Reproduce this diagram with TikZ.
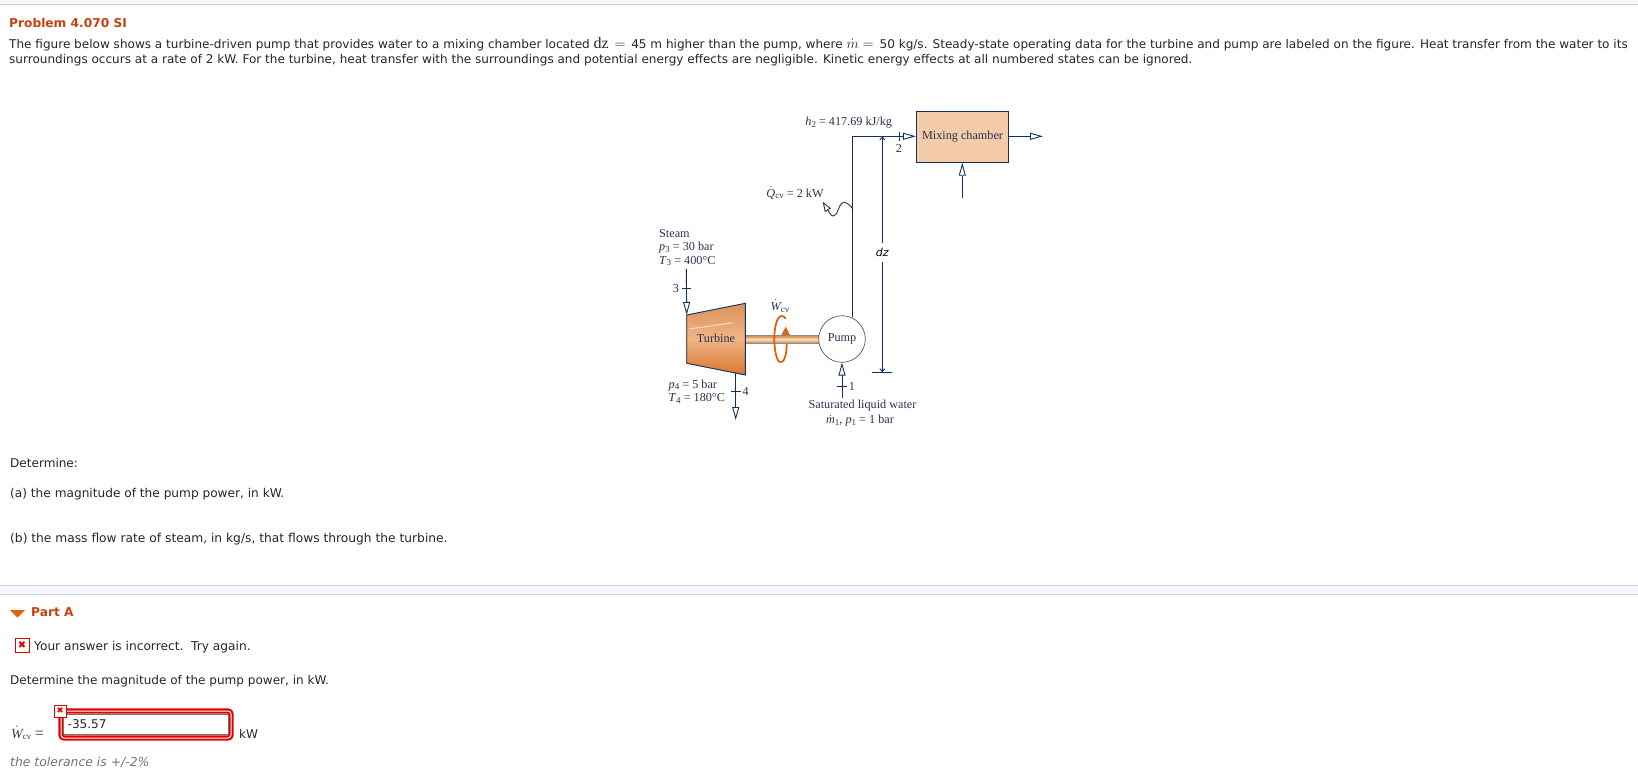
\documentclass[tikz,border=0pt]{standalone}
\usepackage[no-math]{fontspec}
\usepackage{amsmath}
\usetikzlibrary{arrows.meta,calc}
\setmainfont{DejaVu Sans}
\newfontfamily\figfont{Liberation Serif}
\definecolor{navy}{HTML}{12305E}
\definecolor{figink}{HTML}{2B3050}
\definecolor{headred}{HTML}{C8400F}
\definecolor{bandline}{HTML}{C8D3E3}
\definecolor{bandfill}{HTML}{F3F6FA}
\definecolor{chamberfill}{HTML}{F3CBA8}
\definecolor{spin}{HTML}{D9660F}
\definecolor{answerred}{HTML}{E00000}
\definecolor{turbinetop}{HTML}{DD9258}
\definecolor{turbinemid}{HTML}{EFB588}
\definecolor{turbinebot}{HTML}{D9762C}
\newcommand{\htick}[1]{\draw[pipe] ([xshift=-4.8]#1) -- ([xshift=4.8]#1);}
\newcommand{\vtick}[1]{\draw[pipe] ([yshift=-4.5]#1) -- ([yshift=4.5]#1);}
\newcommand{\figlow}[1]{\raisebox{-0.3ex}{\fontsize{9}{9}\selectfont #1}}
\newcommand{\figsub}[2]{\textit{#1}\figlow{#2}}
\newcommand{\figdot}[1]{$\dot{\text{\itshape #1}}$}
\begin{document}
\begin{tikzpicture}[x=1pt,y=-1pt]
        \tikzstyle{pipe}=[draw=navy, line width=0.9pt]
        \tikzstyle{flow}=[pipe, -{Triangle[open, fill=white, length=13pt, width=7pt]}]
        \tikzstyle{webtext}=[anchor=base west, inner sep=0pt, font=\fontsize{12.05}{14}\selectfont, text=black!85]
        \tikzstyle{figtext}=[inner sep=0pt, text=figink, font=\figfont\fontsize{12.2}{13}\selectfont]
        \tikzstyle{figleft}=[figtext, anchor=base west]
        \tikzstyle{xbox}=[draw=answerred, fill=white, line width=1pt, inner sep=0pt, minimum size=14pt, text=answerred, font=\fontsize{10}{10}\selectfont]
        \useasboundingbox (0,0) rectangle (1638,770);

        % page bands
        \fill[bandfill] (0,0) rectangle (1638,4.7);
        \draw[bandline] (0,4.7) -- (1638,4.7);
        \fill[bandfill] (0,585.3) rectangle (1638,594.3);
        \draw[bandline] (0,585.3) -- (1638,585.3);
        \draw[bandline] (0,594.3) -- (1638,594.3);

        % question text
        \node[webtext, text=headred, font=\bfseries\fontsize{12.2}{14}\selectfont] (title) at (9,27.3) {Problem 4.070 SI};
        \node[webtext] (introa) at (9,48.3) {The figure below shows a turbine-driven pump that provides water to a mixing chamber located {\figfont\fontsize{16}{16}\selectfont dz}\hspace{2pt} {\fontsize{15}{15}\selectfont $=$}\hspace{2pt} 45 m higher than the pump, where {\fontsize{15}{15}\selectfont $\dot{m}$} {\fontsize{15}{15}\selectfont $=$}\hspace{6pt}50 kg/s. Steady-state operating data for the turbine and pump are labeled on the figure. Heat transfer from the water to its};
        \node[webtext] (introb) at (9,63.3) {surroundings occurs at a rate of 2 kW. For the turbine, heat transfer with the surroundings and potential energy effects are negligible. Kinetic energy effects at all numbered states can be ignored.};
        \node[webtext] (determine) at (10,467.3) {Determine:};
        \node[webtext, font=\fontsize{12.15}{14}\selectfont] (parta) at (10,497.3) {(a) the magnitude of the pump power, in kW.};
        \node[webtext, font=\fontsize{12.25}{14}\selectfont] (partb) at (10,542.3) {(b) the mass flow rate of steam, in kg/s, that flows through the turbine.};

        % turbine and shaft
        \coordinate (ta) at (686.7,315);
        \coordinate (tb) at (745.3,303.3);
        \coordinate (tc) at (745.3,375);
        \coordinate (td) at (686.7,363.3);
        \draw[spin, line width=1.8pt] (780.7,362.3) .. controls (784,362.3) and (786.7,355) .. (786.7,344);
        \shade[top color=brown!75!orange, bottom color=brown!75!orange, middle color=chamberfill!60!white] (745.3,335.3) rectangle (818.5,343.3);
        \draw[black!45, line width=0.5pt] (745.3,335.3) -- (818.5,335.3) (745.3,343.3) -- (818.5,343.3);
        \shade[top color=turbinetop, bottom color=turbinebot, middle color=turbinemid] (ta) -- (tb) -- (tc) -- (td) -- cycle;
        \draw[navy, line width=0.9pt] (ta) -- (tb) -- (tc) -- (td) -- cycle;
        \draw[white, line width=0.8pt, opacity=0.7] (689,329) -- (733,322.7);
        \draw[spin, line width=1.8pt] (785.7,318.7) .. controls (784.5,316.5) and (783,316) .. (781.7,316) .. controls (777,316) and (774.3,327) .. (774.3,339) .. controls (774.3,351) and (777,362.3) .. (780.7,362.3);
        \fill[spin] (785.7,326.7) -- (790,335) -- (781.4,335) -- cycle;
        \fill[spin] (784.7,333) rectangle (786.7,335.3);

        % main components
        \node[figtext] (turbine) at (716,338.3) {Turbine};
        \node[circle, draw=black!75, fill=white, line width=0.6pt, inner sep=0pt, minimum size=46.6pt, text=figink, font=\figfont\fontsize{12.2}{13}\selectfont] (pump) at (842,339) {Pump};
        \node[draw=navy, line width=0.9pt, fill=chamberfill, minimum width=92.4pt, minimum height=51pt, inner sep=0pt, text=figink, font=\figfont\fontsize{12.2}{13}\selectfont] (mixer) at (962.5,136.8) {Mixing chamber};

        % connectors
        \coordinate (riser) at (852.3,136.3);
        \coordinate (s2) at (899,136.3);
        \coordinate (out) at (1043,136.3);
        \coordinate (in) at (962.3,197.7);
        \coordinate (steam) at (686.3,269);
        \coordinate (s3) at (686.3,288.3);
        \coordinate (s4) at (735.7,391.7);
        \coordinate (drain) at (735.7,420);
        \coordinate (s1) at (842,386.7);
        \coordinate (water) at (842,397.7);
        \draw[pipe] (852.3,316.5) -- (riser) -- (s2);
        \draw[flow] (s2) -- (mixer.west |- s2);
        \draw[flow] (mixer.east |- out) -- (out);
        \draw[flow] (in) -- (mixer.south -| in);
        \draw[flow] (steam) -- (ta);
        \draw[flow] (735.7,373) -- (drain);
        \draw[flow] (water) -- (pump.south);
        \vtick{s2}
        \htick{s3}
        \htick{s4}
        \htick{s1}

        % elevation
        \coordinate (dztop) at (882.3,136.3);
        \coordinate (dzbot) at (882.3,372.3);
        \node[inner sep=0pt, fill=white, font=\itshape\fontsize{11}{13}\selectfont, minimum height=19pt] (dz) at (882.3,252.7) {dz};
        \draw[pipe, -{Straight Barb[length=3pt, width=5pt]}] (dz) -- (dztop);
        \draw[pipe, -{Straight Barb[length=3pt, width=5pt]}] (dz) -- (dzbot);
        \draw[pipe] ([xshift=-10.3]dzbot) -- ([xshift=9.4]dzbot);

        % heat loss
        \coordinate (qstart) at (852.3,208.3);
        \coordinate (qend) at (822.7,201.7);
        \draw[draw=figink, line width=0.9pt, -{Triangle[open, fill=white, length=10pt, width=7pt]}] (qstart) .. controls (849,204) and (845,201) .. (842,203) .. controls (838,206) and (838,216) .. (833,216) .. controls (831,216) and (829,212) .. (qend);

        % figure labels
        \node[figtext] (hlabel) at (848.7,122.5) {\figsub{h}{2} = 417.69 kJ/kg};
        \node[figtext] (two) at (899,148.7) {2};
        \node[figtext] (qlabel) at (795,192.7) {\figdot{Q}\figlow{cv} = 2 kW};
        \node[figleft] (steamlabel) at (659,237) {Steam};
        \node[figleft] (pthree) at (659,250.5) {\figsub{p}{3} = 30 bar};
        \node[figleft] (tthree) at (659,264) {\figsub{T}{3} = 400°C};
        \node[figtext] (three) at (676,288.3) {3};
        \node[figtext] (wlabel) at (780,306) {\figdot{W}\figlow{cv}};
        \node[figleft] (pfour) at (668.5,388) {\figsub{p}{4} = 5 bar};
        \node[figleft] (tfour) at (668.5,401.5) {\figsub{T}{4} = 180°C};
        \node[figtext] (four) at (745.7,391.7) {4};
        \node[figtext] (one) at (852,386) {1};
        \node[figtext] (sat) at (862.5,405.7) {Saturated liquid water};
        \node[figtext] (mlabel) at (860,420.7) {\figdot{m}\figlow{1}, \figsub{p}{1} = 1 bar};

        % part A
        \fill[spin] (10,610) -- (25,610) -- (17.5,617.5) -- cycle;
        \node[webtext, text=headred, font=\bfseries\fontsize{12.2}{14}\selectfont] (parthead) at (31,616.7) {Part A};
        \node[xbox] (wrong) at (22,645.5) {✖};
        \node[webtext, font=\fontsize{12.2}{14}\selectfont] (verdict) at (34,650) {Your answer is incorrect.\ \ Try again.};
        \node[webtext] (ask) at (10,684.3) {Determine the magnitude of the pump power, in kW.};
        \node[figleft, text=black!75, font=\figfont\fontsize{14}{14}\selectfont] (wcv) at (11,738) {\figdot{W}\raisebox{-0.3ex}{\fontsize{9}{9}\selectfont cv} {\fontsize{16}{16}\selectfont =}};
        \node[draw=answerred, line width=2.1pt, double=white, double distance=1pt, rounded corners=3pt, minimum width=170pt, minimum height=27pt, inner sep=0pt] (frame) at (146,724.5) {};
        \node[draw=black!55, line width=1.2pt, fill=white, minimum width=165pt, minimum height=20pt, inner sep=0pt] (answerbox) at (146,724.5) {};
        \node[webtext] (answer) at (67.5,728) {-35.57};
        \node[xbox, minimum size=12pt, font=\fontsize{8.5}{9}\selectfont] (wrongb) at (60.3,711) {✖};
        \node[webtext] (unit) at (239,738) {kW};
        \node[webtext, text=black!55, font=\itshape\fontsize{12.4}{14}\selectfont] (tolerance) at (10,766) {the tolerance is +/-2\%};
    \end{tikzpicture}
\end{document}
